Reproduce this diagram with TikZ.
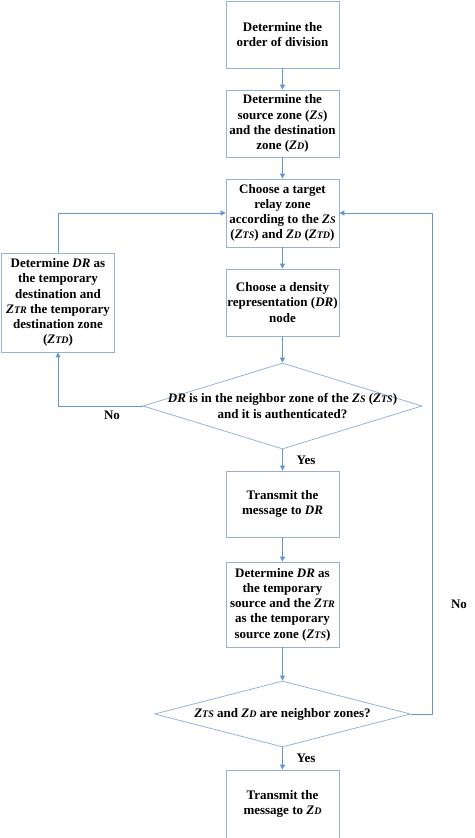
\documentclass[tikz,border=0pt]{standalone}
\usepackage{fontspec}
\setmainfont{Liberation Serif}
\usetikzlibrary{arrows.meta,shapes.geometric}
\newcommand\zsub[1]{\textit{Z{\fontsize{10}{10}\selectfont #1}}}
\newcommand\dr{\textit{DR}}
\begin{document}
\begin{tikzpicture}[x=1pt,y=-1pt,
  every node/.style={font=\fontsize{13}{15.2}\selectfont\bfseries, align=center},
  stepbox/.style={draw=boxline, line width=0.8pt, fill=white, minimum width=113pt, inner sep=0pt},
  decision/.style={draw=boxline, line width=0.8pt, diamond, inner sep=0pt},
  flow/.style={draw=flowline, line width=0.9pt, -{Triangle[length=5pt,width=5pt]}}]
\definecolor{boxline}{RGB}{150,178,214}
\definecolor{flowline}{RGB}{96,152,208}
\useasboundingbox (0,0) rectangle (474,838);
\pgfmathsetmacro\cx{282.5};
\node[stepbox, minimum height=67pt] (order) at (\cx,34.5) {Determine the\\order of division};
\node[stepbox, minimum height=67pt] (zones) at (\cx,123.5) {Determine the\\source zone (\zsub{S})\\and the destination\\zone (\zsub{D})};
\node[stepbox, minimum height=68pt] (relay) at (\cx,213) {Choose a target\\relay zone\\according to the \zsub{S}\\(\zsub{TS}) and \zsub{D} (\zsub{TD})};
\node[stepbox, minimum height=67pt] (density) at (\cx,302.5) {Choose a density\\representation (\dr)\\node};
\node[stepbox, minimum height=99pt] (dest) at (58,302.5) {Determine \dr{} as\\the temporary\\destination and\\\zsub{TR} the temporary\\destination zone\\(\zsub{TD})};
\node[decision, minimum width=279pt, minimum height=86pt] (check) at (\cx,406) {};
\node (checktext) at (check) {\dr{} is in the neighbor zone of the \zsub{S} (\zsub{TS})\\and it is authenticated?};
\node[stepbox, minimum height=66pt] (transmit) at (\cx,504) {Transmit the\\message to \dr};
\node[stepbox, minimum height=85pt] (source) at (\cx,604.5) {Determine \dr{} as\\the temporary\\source and the \zsub{TR}\\as the temporary\\source zone (\zsub{TS})};
\node[decision, minimum width=256pt, minimum height=66pt] (neigh) at (\cx,714) {};
\node (neightext) at (neigh) {\zsub{TS} and \zsub{D} are neighbor zones?};
\node[stepbox, minimum height=68pt] (final) at (\cx,804) {Transmit the\\message to \zsub{D}};
\coordinate (back) at (432,714);
\draw[flow] (order) -- (zones);
\draw[flow] (zones) -- (relay);
\draw[flow] (relay) -- (density);
\draw[flow] (density) -- (check);
\draw[flow] (check.west) -| (dest.south);
\draw[flow] (dest.north) |- (relay.west);
\draw[flow] (check.south) -- (transmit.north);
\draw[flow] (transmit) -- (source);
\draw[flow] (source.south) -- (neigh.north);
\draw[flow] (neigh.east) -- (back) |- (relay.east);
\draw[flow] (neigh.south) -- (final.north);
\node (no1) at (112,415) {No};
\node (yes1) at (306,460) {Yes};
\node (no2) at (459,604) {No};
\node (yes2) at (306,758) {Yes};
\end{tikzpicture}
\end{document}
